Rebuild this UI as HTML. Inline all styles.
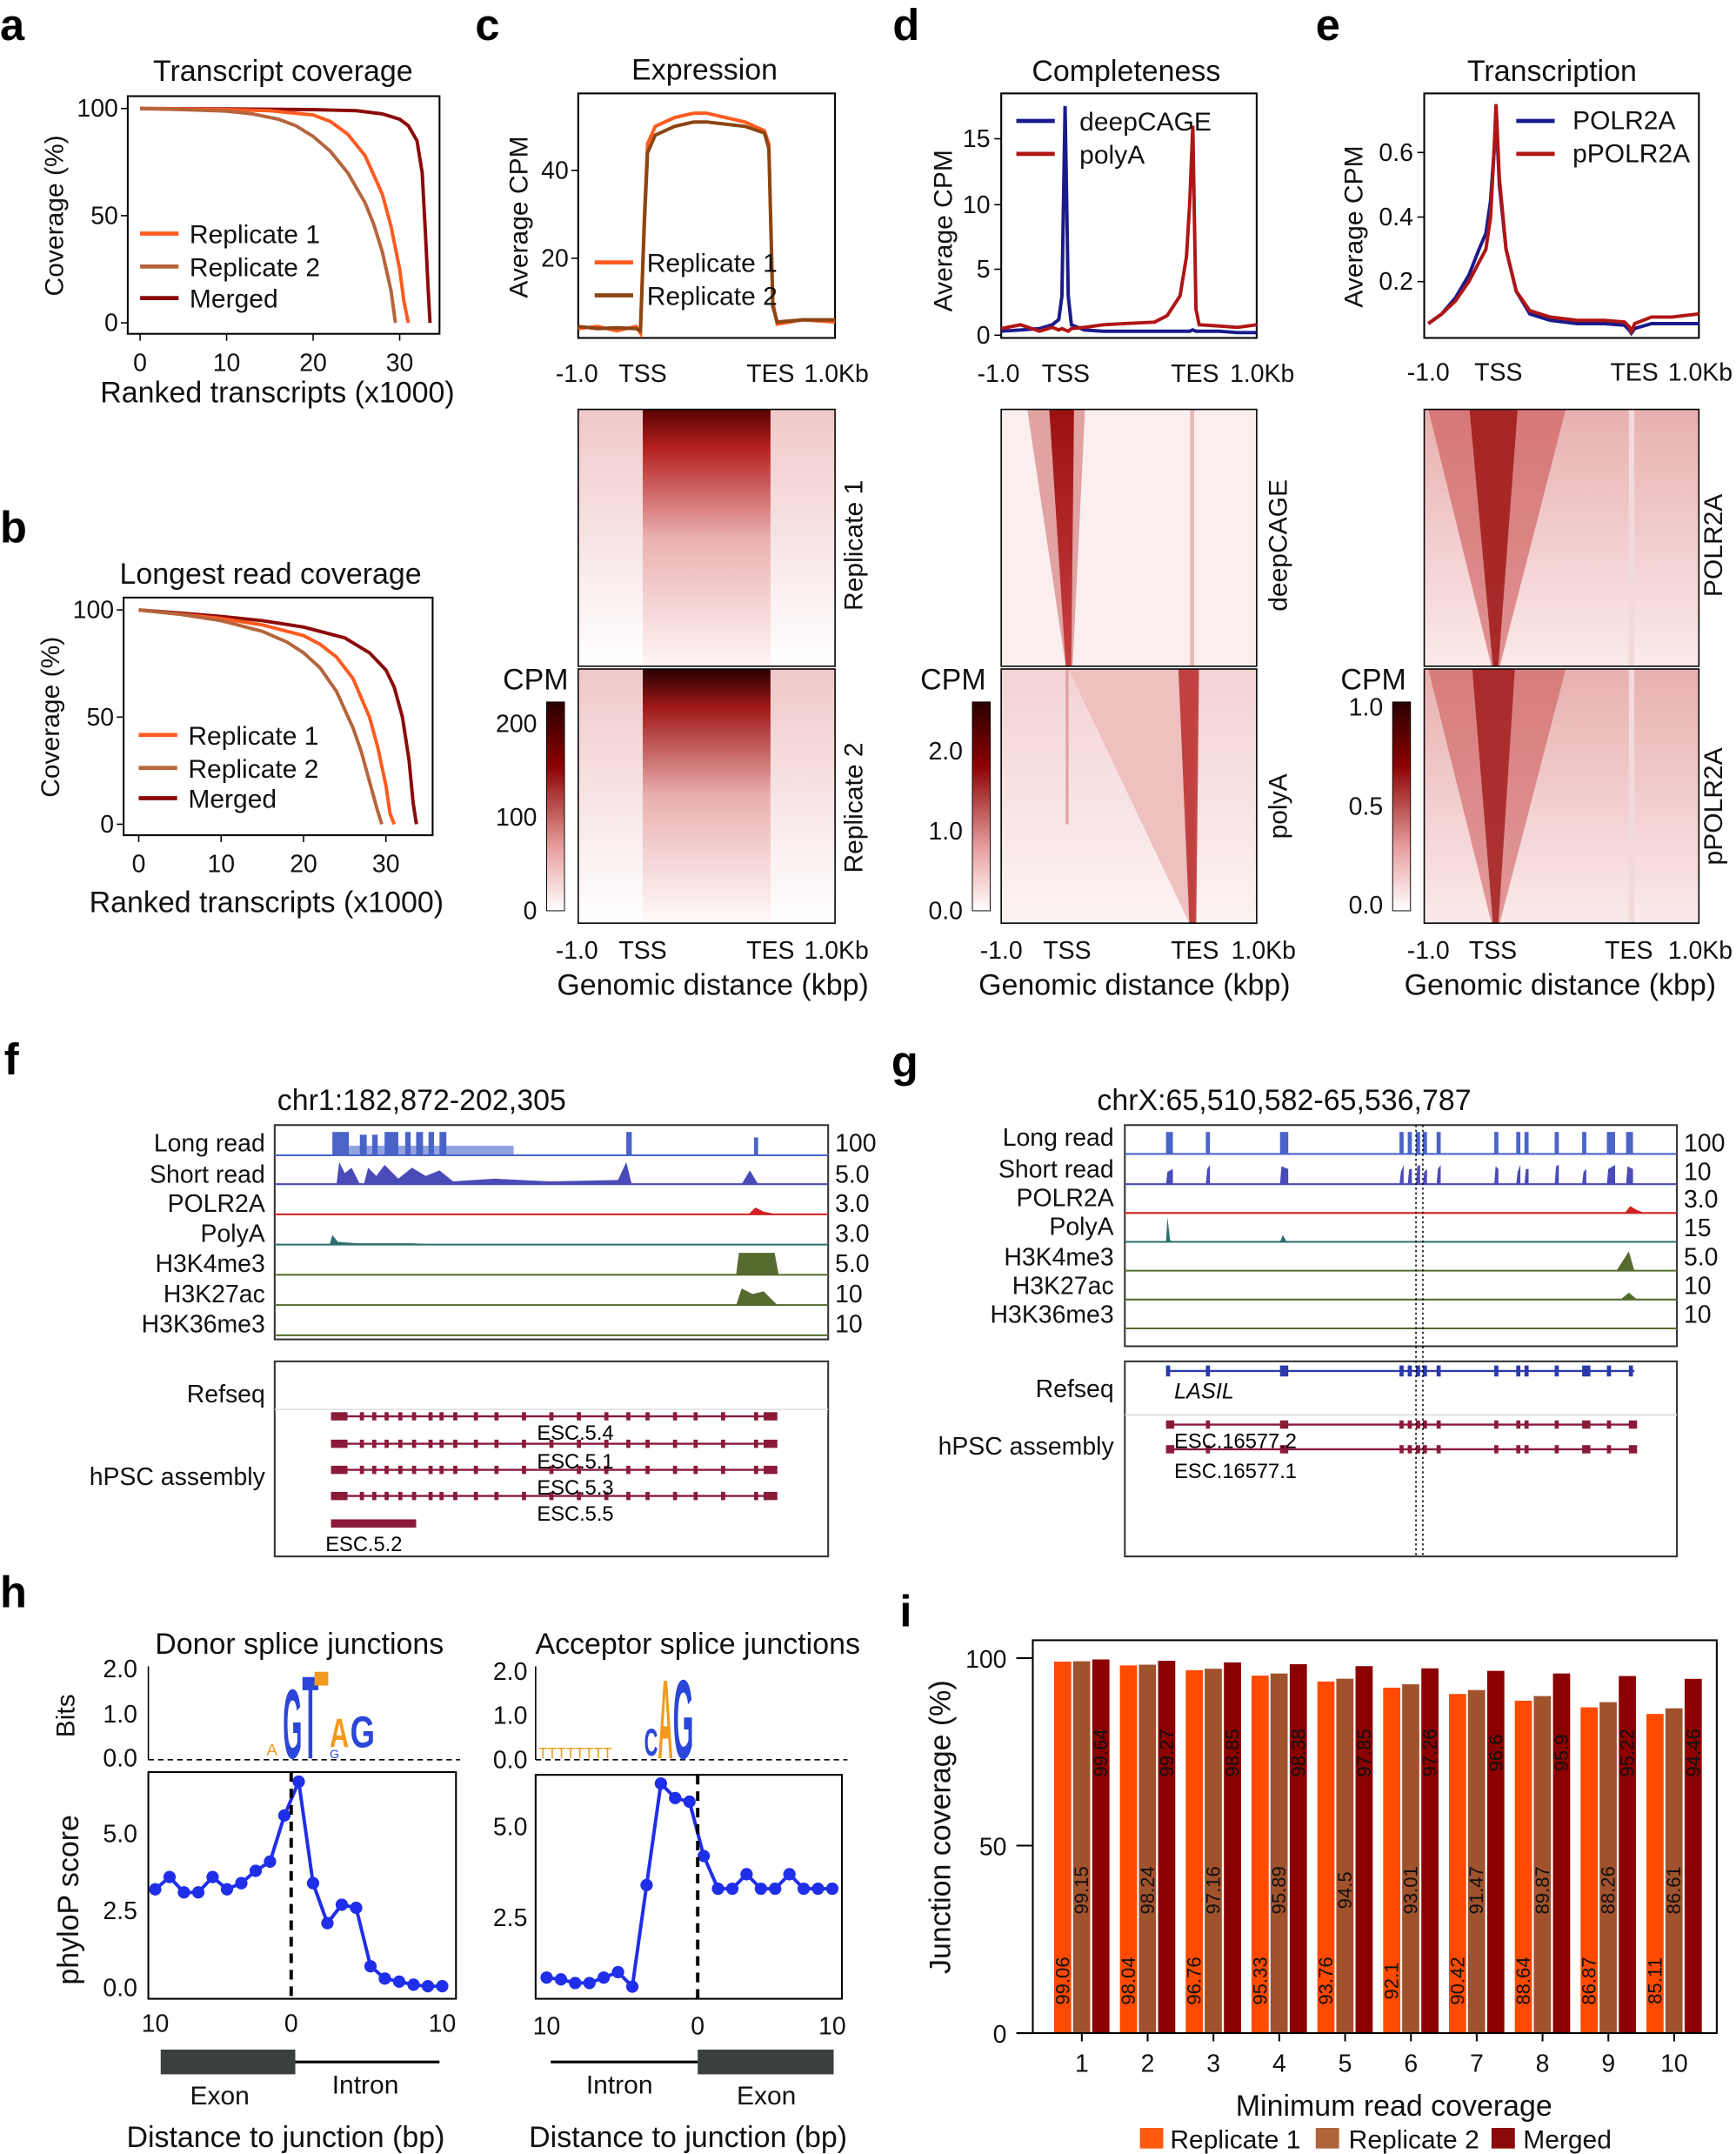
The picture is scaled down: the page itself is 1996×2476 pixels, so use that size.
<!DOCTYPE html>
<html><head><meta charset="utf-8">
<style>
html,body{margin:0;padding:0;background:#fff;}
svg{display:block;font-family:"Liberation Sans",Arial,sans-serif;}
.t{font-size:19px;fill:#111}
.tk{font-size:18px;fill:#111}
.ttl{font-size:21.5px;fill:#111}
.pl{font-size:32px;font-weight:bold;fill:#000}
.lb{font-size:18px;fill:#111}
</style></head>
<body>
<svg id="fig" width="1996" height="2476" viewBox="0 0 1264 1568" xmlns="http://www.w3.org/2000/svg">
<defs>
<linearGradient id="cbar" x1="0" y1="0" x2="0" y2="1"><stop offset="0" stop-color="#2a0000"/><stop offset="0.3" stop-color="#8b0000"/><stop offset="0.7" stop-color="#e8a0a0"/><stop offset="1" stop-color="#fff"/></linearGradient>
<linearGradient id="hmC1" x1="0" y1="0" x2="0" y2="1"><stop offset="0" stop-color="#5a0000"/><stop offset="0.15" stop-color="#b52020"/><stop offset="0.5" stop-color="#eab0b0"/><stop offset="1" stop-color="#fff5f5"/></linearGradient>
<linearGradient id="hmC2" x1="0" y1="0" x2="0" y2="1"><stop offset="0" stop-color="#2a0000"/><stop offset="0.15" stop-color="#a01818"/><stop offset="0.5" stop-color="#eab0b0"/><stop offset="1" stop-color="#fffafa"/></linearGradient>
<linearGradient id="hmSide" x1="0" y1="0" x2="0" y2="1"><stop offset="0" stop-color="#f0c8c8"/><stop offset="1" stop-color="#fff"/></linearGradient>
<linearGradient id="hmPeak" x1="0" y1="0" x2="0" y2="1"><stop offset="0" stop-color="#9b1010"/><stop offset="1" stop-color="#c84040"/></linearGradient>
<linearGradient id="hmBg" x1="0" y1="0" x2="0" y2="1"><stop offset="0" stop-color="#f3d2d2"/><stop offset="1" stop-color="#fdf3f3"/></linearGradient>
<linearGradient id="hmE" x1="0" y1="0" x2="0" y2="1"><stop offset="0" stop-color="#e8b0b0"/><stop offset="1" stop-color="#fbeaea"/></linearGradient>
</defs>

<!-- panel letters -->
<text class="pl" x="0" y="29">a</text>
<text class="pl" x="0" y="395">b</text>
<text class="pl" x="346" y="29">c</text>
<text class="pl" x="650" y="29">d</text>
<text class="pl" x="958" y="29">e</text>
<text class="pl" x="3" y="782">f</text>
<text class="pl" x="649" y="784">g</text>
<text class="pl" x="0" y="1170">h</text>
<text class="pl" x="655" y="1184">i</text>

<!-- Panel a -->
<g>
<text class="ttl" x="206" y="59" text-anchor="middle">Transcript coverage</text>
<rect x="93" y="70" width="227" height="173" fill="none" stroke="#000" stroke-width="1.3"/>
<text class="ttl" x="202" y="293" text-anchor="middle">Ranked transcripts (x1000)</text>
<text class="t" transform="translate(46,157) rotate(-90)" text-anchor="middle">Coverage (%)</text>
<g id="aTicks"></g><g id="aLines"></g>
<g>
<line x1="102" y1="170" x2="130" y2="170" stroke="#ff5a1f" stroke-width="3"/><text class="t" x="138" y="177">Replicate 1</text>
<line x1="102" y1="194" x2="130" y2="194" stroke="#b5653d" stroke-width="3"/><text class="t" x="138" y="201">Replicate 2</text>
<line x1="102" y1="217" x2="130" y2="217" stroke="#8b0a0a" stroke-width="3"/><text class="t" x="138" y="224">Merged</text>
</g></g>

<!-- Panel b -->
<g>
<text class="ttl" x="197" y="425" text-anchor="middle">Longest read coverage</text>
<rect x="90" y="435" width="225" height="173" fill="none" stroke="#000" stroke-width="1.3"/>
<text class="ttl" x="194" y="664" text-anchor="middle">Ranked transcripts (x1000)</text>
<text class="t" transform="translate(43,522) rotate(-90)" text-anchor="middle">Coverage (%)</text>
<g id="bTicks"></g><g id="bLines"></g>
<g>
<line x1="101" y1="535" x2="129" y2="535" stroke="#ff5a1f" stroke-width="3"/><text class="t" x="137" y="542">Replicate 1</text>
<line x1="101" y1="559" x2="129" y2="559" stroke="#b5653d" stroke-width="3"/><text class="t" x="137" y="566">Replicate 2</text>
<line x1="101" y1="581" x2="129" y2="581" stroke="#8b0a0a" stroke-width="3"/><text class="t" x="137" y="588">Merged</text>
</g></g>

<!-- Panel c -->
<g>
<text class="ttl" x="513" y="58" text-anchor="middle">Expression</text>
<rect x="421" y="68" width="187" height="178" fill="none" stroke="#000" stroke-width="1.3"/>
<text class="t" transform="translate(384,158) rotate(-90)" text-anchor="middle">Average CPM</text>
<text class="tk" x="414" y="130" text-anchor="end">40</text><line x1="416" y1="124" x2="421" y2="124" stroke="#000"/>
<text class="tk" x="414" y="194" text-anchor="end">20</text><line x1="416" y1="188" x2="421" y2="188" stroke="#000"/>
<g id="cLines"></g>
<line x1="433" y1="191" x2="461" y2="191" stroke="#ff5a1f" stroke-width="3"/><text class="t" x="471" y="198">Replicate 1</text>
<line x1="433" y1="215" x2="461" y2="215" stroke="#8b4513" stroke-width="3"/><text class="t" x="471" y="222">Replicate 2</text>
<g class="tk"><text x="420" y="278" text-anchor="middle">-1.0</text><text x="468" y="278" text-anchor="middle">TSS</text><text x="561" y="278" text-anchor="middle">TES</text><text x="609" y="278" text-anchor="middle">1.0Kb</text></g>
<g>
<rect x="421" y="298" width="187" height="187" fill="url(#hmSide)"/>
<rect x="468" y="298" width="93" height="187" fill="url(#hmC1)"/>
<rect x="421" y="298" width="187" height="187" fill="none" stroke="#000"/>
</g>
<g>
<rect x="421" y="487" width="187" height="185" fill="url(#hmSide)"/>
<rect x="468" y="487" width="93" height="185" fill="url(#hmC2)"/>
<rect x="421" y="487" width="187" height="185" fill="none" stroke="#000"/>
</g>
<text class="t" transform="translate(628,397) rotate(-90)" text-anchor="middle">Replicate 1</text>
<text class="t" transform="translate(628,588) rotate(-90)" text-anchor="middle">Replicate 2</text>
<text class="ttl" x="390" y="502" text-anchor="middle">CPM</text>
<rect x="398" y="511" width="13" height="152" fill="url(#cbar)" stroke="#000" stroke-width="0.6"/>
<g class="tk"><text x="391" y="533" text-anchor="end">200</text><text x="391" y="601" text-anchor="end">100</text><text x="391" y="669" text-anchor="end">0</text></g>
<g class="tk"><text x="420" y="698" text-anchor="middle">-1.0</text><text x="468" y="698" text-anchor="middle">TSS</text><text x="561" y="698" text-anchor="middle">TES</text><text x="609" y="698" text-anchor="middle">1.0Kb</text></g>
<text class="ttl" x="519" y="724" text-anchor="middle">Genomic distance (kbp)</text>
</g>

<!-- Panel d -->
<g>
<text class="ttl" x="820" y="59" text-anchor="middle">Completeness</text>
<rect x="729" y="68" width="186" height="178" fill="none" stroke="#000" stroke-width="1.3"/>
<text class="t" transform="translate(693,168) rotate(-90)" text-anchor="middle">Average CPM</text>
<g class="tk"><text x="721" y="107" text-anchor="end">15</text><text x="721" y="155" text-anchor="end">10</text><text x="721" y="202" text-anchor="end">5</text><text x="721" y="250" text-anchor="end">0</text></g>
<g stroke="#000"><line x1="724" y1="101" x2="729" y2="101"/><line x1="724" y1="149" x2="729" y2="149"/><line x1="724" y1="196" x2="729" y2="196"/><line x1="724" y1="244" x2="729" y2="244"/></g>
<g id="dLines"></g>
<line x1="740" y1="88" x2="768" y2="88" stroke="#1a1a8c" stroke-width="3"/><text class="t" x="786" y="95">deepCAGE</text>
<line x1="740" y1="112" x2="768" y2="112" stroke="#b01515" stroke-width="3"/><text class="t" x="786" y="119">polyA</text>
<g class="tk"><text x="727" y="278" text-anchor="middle">-1.0</text><text x="776" y="278" text-anchor="middle">TSS</text><text x="870" y="278" text-anchor="middle">TES</text><text x="919" y="278" text-anchor="middle">1.0Kb</text></g>
<g>
<rect x="729" y="298" width="186" height="187" fill="#fbeeee"/>
<polygon points="748,298 790,298 781,485 776,485" fill="#d07070" opacity="0.6"/>
<polygon points="764,298 782,298 780,485 776,485" fill="url(#hmPeak)"/>
<line x1="868" y1="298" x2="868" y2="485" stroke="#e8b8b8" stroke-width="3"/>
<rect x="729" y="298" width="186" height="187" fill="none" stroke="#000"/>
</g>
<g>
<rect x="729" y="487" width="186" height="185" fill="url(#hmBg)"/>
<polygon points="778,487 870,487 870,672 866,672" fill="#eec0c0"/>
<polygon points="858,487 873,487 871,672 866,672" fill="#b52020" opacity="0.8"/>
<line x1="777" y1="487" x2="777" y2="600" stroke="#e0a0a0" stroke-width="2"/>
<rect x="729" y="487" width="186" height="185" fill="none" stroke="#000"/>
</g>
<text class="t" transform="translate(937,397) rotate(-90)" text-anchor="middle">deepCAGE</text>
<text class="t" transform="translate(937,587) rotate(-90)" text-anchor="middle">polyA</text>
<text class="ttl" x="694" y="502" text-anchor="middle">CPM</text>
<rect x="708" y="511" width="13" height="152" fill="url(#cbar)" stroke="#000" stroke-width="0.6"/>
<g class="tk"><text x="701" y="553" text-anchor="end">2.0</text><text x="701" y="611" text-anchor="end">1.0</text><text x="701" y="669" text-anchor="end">0.0</text></g>
<g class="tk"><text x="729" y="698" text-anchor="middle">-1.0</text><text x="777" y="698" text-anchor="middle">TSS</text><text x="870" y="698" text-anchor="middle">TES</text><text x="920" y="698" text-anchor="middle">1.0Kb</text></g>
<text class="ttl" x="826" y="724" text-anchor="middle">Genomic distance (kbp)</text>
</g>

<!-- Panel e -->
<g>
<text class="ttl" x="1130" y="59" text-anchor="middle">Transcription</text>
<rect x="1037" y="68" width="200" height="178" fill="none" stroke="#000" stroke-width="1.3"/>
<text class="t" transform="translate(992,165) rotate(-90)" text-anchor="middle">Average CPM</text>
<g class="tk"><text x="1029" y="117" text-anchor="end">0.6</text><text x="1029" y="164" text-anchor="end">0.4</text><text x="1029" y="211" text-anchor="end">0.2</text></g>
<g stroke="#000"><line x1="1032" y1="111" x2="1037" y2="111"/><line x1="1032" y1="158" x2="1037" y2="158"/><line x1="1032" y1="205" x2="1037" y2="205"/></g>
<g id="eLines"></g>
<line x1="1104" y1="88" x2="1132" y2="88" stroke="#1a1a8c" stroke-width="3"/><text class="t" x="1145" y="94">POLR2A</text>
<line x1="1104" y1="112" x2="1132" y2="112" stroke="#b01515" stroke-width="3"/><text class="t" x="1145" y="118">pPOLR2A</text>
<g class="tk"><text x="1040" y="277" text-anchor="middle">-1.0</text><text x="1091" y="277" text-anchor="middle">TSS</text><text x="1190" y="277" text-anchor="middle">TES</text><text x="1238" y="277" text-anchor="middle">1.0Kb</text></g>
<g>
<rect x="1037" y="298" width="200" height="187" fill="url(#hmE)"/>
<polygon points="1040,298 1140,298 1092,485 1086,485" fill="#c84848" opacity="0.55"/>
<polygon points="1070,298 1105,298 1091,485 1087,485" fill="#9b1010" opacity="0.8"/>
<line x1="1188" y1="298" x2="1188" y2="485" stroke="#f3dada" stroke-width="4"/>
<rect x="1037" y="298" width="200" height="187" fill="none" stroke="#000"/>
</g>
<g>
<rect x="1037" y="487" width="200" height="185" fill="url(#hmE)"/>
<polygon points="1040,487 1140,487 1092,672 1086,672" fill="#c84848" opacity="0.5"/>
<polygon points="1072,487 1103,487 1091,672 1087,672" fill="#9b1010" opacity="0.75"/>
<line x1="1188" y1="487" x2="1188" y2="672" stroke="#f3dada" stroke-width="4"/>
<rect x="1037" y="487" width="200" height="185" fill="none" stroke="#000"/>
</g>
<text class="t" transform="translate(1254,397) rotate(-90)" text-anchor="middle">POLR2A</text>
<text class="t" transform="translate(1254,587) rotate(-90)" text-anchor="middle">pPOLR2A</text>
<text class="ttl" x="1000" y="502" text-anchor="middle">CPM</text>
<rect x="1014" y="511" width="13" height="152" fill="url(#cbar)" stroke="#000" stroke-width="0.6"/>
<g class="tk"><text x="1007" y="521" text-anchor="end">1.0</text><text x="1007" y="593" text-anchor="end">0.5</text><text x="1007" y="665" text-anchor="end">0.0</text></g>
<g class="tk"><text x="1040" y="698" text-anchor="middle">-1.0</text><text x="1087" y="698" text-anchor="middle">TSS</text><text x="1186" y="698" text-anchor="middle">TES</text><text x="1238" y="698" text-anchor="middle">1.0Kb</text></g>
<text class="ttl" x="1136" y="724" text-anchor="middle">Genomic distance (kbp)</text>
</g>

<!-- Panel f -->
<g>
<text class="ttl" x="307" y="808" text-anchor="middle">chr1:182,872-202,305</text>
<rect x="200" y="819" width="403" height="156" fill="none" stroke="#333" stroke-width="1.3"/>
<g class="lb" text-anchor="end">
<text x="193" y="838">Long read</text><text x="193" y="861">Short read</text><text x="193" y="882">POLR2A</text><text x="193" y="904">PolyA</text><text x="193" y="926">H3K4me3</text><text x="193" y="948">H3K27ac</text><text x="193" y="970">H3K36me3</text>
</g>
<g class="lb"><text x="608" y="838">100</text><text x="608" y="861">5.0</text><text x="608" y="882">3.0</text><text x="608" y="904">3.0</text><text x="608" y="926">5.0</text><text x="608" y="948">10</text><text x="608" y="970">10</text></g>
<g stroke-width="1.3">
<line x1="200" y1="841" x2="603" y2="841" stroke="#4a64c8"/><line x1="200" y1="862" x2="603" y2="862" stroke="#4a4ab8"/><line x1="200" y1="884" x2="603" y2="884" stroke="#d02020"/><line x1="200" y1="906" x2="603" y2="906" stroke="#2e6e6e"/><line x1="200" y1="928" x2="603" y2="928" stroke="#556b2f"/><line x1="200" y1="950" x2="603" y2="950" stroke="#556b2f"/><line x1="200" y1="972" x2="603" y2="972" stroke="#556b2f"/>
</g>
<g fill="#4a64c8"><rect x="242" y="824" width="12" height="17"/><rect x="262" y="826" width="5" height="15"/><rect x="271" y="826" width="4" height="15"/><rect x="280" y="824" width="10" height="17"/><rect x="295" y="824" width="4" height="17"/><rect x="303" y="824" width="5" height="17"/><rect x="312" y="824" width="4" height="17"/><rect x="320" y="824" width="5" height="17"/><rect x="254" y="834" width="120" height="7" opacity="0.6"/><rect x="456" y="824" width="4" height="17"/><rect x="549" y="828" width="3" height="13"/></g>
<g fill="#4a4ab8"><path d="M245,862 L247,846 L251,854 L256,850 L262,862 Z"/><path d="M265,862 L268,850 L274,856 L280,848 L290,858 L300,850 L310,856 L320,852 L330,860 L360,858 L400,860 L450,859 L456,846 L460,862 Z"/><path d="M540,862 L546,852 L552,862 Z"/></g>
<path d="M545,884 L550,879 L556,882 L566,884 Z" fill="#d02020"/>
<path d="M240,906 L242,899 L246,904 L260,905 L300,905 L320,906 Z" fill="#2e6e6e"/>
<path d="M536,928 L538,912 L564,912 L567,928 Z" fill="#556b2f"/>
<path d="M536,950 L540,938 L548,942 L556,940 L566,950 Z" fill="#556b2f"/>
<rect x="200" y="991" width="403" height="142" fill="none" stroke="#333" stroke-width="1.3"/>
<line x1="200" y1="1026" x2="603" y2="1026" stroke="#ddd"/>
<text class="lb" x="193" y="1021" text-anchor="end">Refseq</text>
<text class="lb" x="193" y="1081" text-anchor="end">hPSC assembly</text>
<g id="fTx"></g>
<g font-size="15"><text x="391" y="1048">ESC.5.4</text><text x="391" y="1069">ESC.5.1</text><text x="391" y="1088">ESC.5.3</text><text x="391" y="1107">ESC.5.5</text><text x="237" y="1129">ESC.5.2</text></g>
</g>

<!-- Panel g -->
<g>
<text class="ttl" x="935" y="808" text-anchor="middle">chrX:65,510,582-65,536,787</text>
<rect x="819" y="819" width="402" height="161" fill="none" stroke="#333" stroke-width="1.3"/>
<g class="lb" text-anchor="end">
<text x="811" y="834">Long read</text><text x="811" y="857">Short read</text><text x="811" y="878">POLR2A</text><text x="811" y="899">PolyA</text><text x="811" y="921">H3K4me3</text><text x="811" y="942">H3K27ac</text><text x="811" y="963">H3K36me3</text>
</g>
<g class="lb"><text x="1226" y="838">100</text><text x="1226" y="859">10</text><text x="1226" y="879">3.0</text><text x="1226" y="900">15</text><text x="1226" y="921">5.0</text><text x="1226" y="942">10</text><text x="1226" y="963">10</text></g>
<g stroke-width="1.3">
<line x1="819" y1="840" x2="1221" y2="840" stroke="#4a64c8"/><line x1="819" y1="862" x2="1221" y2="862" stroke="#4a4ab8"/><line x1="819" y1="883" x2="1221" y2="883" stroke="#d02020"/><line x1="819" y1="904" x2="1221" y2="904" stroke="#2e6e6e"/><line x1="819" y1="925" x2="1221" y2="925" stroke="#556b2f"/><line x1="819" y1="946" x2="1221" y2="946" stroke="#556b2f"/><line x1="819" y1="967" x2="1221" y2="967" stroke="#556b2f"/>
</g>
<g id="gTracks"></g>
<path d="M1183,883 L1187,878 L1192,881 L1198,883 Z" fill="#d02020"/>
<path d="M849,904 L850,886 L852,903 L856,904 Z M932,904 L934,899 L937,904 Z" fill="#2e6e6e"/>
<path d="M1177,925 L1186,911 L1190,925 Z" fill="#556b2f"/>
<path d="M1180,946 L1186,941 L1192,946 Z" fill="#556b2f"/>
<rect x="819" y="991" width="402" height="142" fill="none" stroke="#333" stroke-width="1.3"/>
<line x1="819" y1="1030" x2="1221" y2="1030" stroke="#ddd"/>
<text class="lb" x="811" y="1017" text-anchor="end">Refseq</text>
<text class="lb" x="811" y="1059" text-anchor="end">hPSC assembly</text>
<g id="gTx"></g>
<text x="855" y="1018" font-size="16" font-style="italic">LASIL</text>
<g font-size="15"><text x="855" y="1054">ESC.16577.2</text><text x="855" y="1076">ESC.16577.1</text></g>
<line x1="1031" y1="819" x2="1031" y2="1133" stroke="#000" stroke-dasharray="1.5,2"/>
<line x1="1036" y1="819" x2="1036" y2="1133" stroke="#000" stroke-dasharray="1.5,2"/>
</g>

<!-- Panel h -->
<g>
<text class="ttl" x="218" y="1204" text-anchor="middle">Donor splice junctions</text>
<text class="ttl" x="508" y="1204" text-anchor="middle">Acceptor splice junctions</text>
<g>
<line x1="108" y1="1213" x2="108" y2="1281" stroke="#000"/><line x1="108" y1="1281" x2="335" y2="1281" stroke="#000" stroke-dasharray="4,3"/>
<g class="tk" text-anchor="end"><text x="100" y="1221">2.0</text><text x="100" y="1254">1.0</text><text x="100" y="1286">0.0</text></g>
<text class="t" transform="translate(54,1249) rotate(-90)" text-anchor="middle">Bits</text>
<text x="206" y="1280" font-size="72" font-weight="bold" fill="#2b46d8" textLength="14" lengthAdjust="spacingAndGlyphs">G</text>
<text x="220" y="1280" font-size="86" font-weight="bold" fill="#2b46d8" textLength="12" lengthAdjust="spacingAndGlyphs">T</text>
<rect x="229" y="1217" width="10" height="10" fill="#f39a1e"/>
<text x="240" y="1272" font-size="30" font-weight="bold" fill="#f39a1e" textLength="14" lengthAdjust="spacingAndGlyphs">A</text>
<text x="255" y="1272" font-size="32" font-weight="bold" fill="#2b46d8" textLength="18" lengthAdjust="spacingAndGlyphs">G</text>
<text x="194" y="1278" font-size="12" fill="#f39a1e">A</text>
<text x="240" y="1280" font-size="9" fill="#2b46d8">G</text>
</g>
<g>
<line x1="390" y1="1213" x2="390" y2="1281" stroke="#000"/><line x1="390" y1="1281" x2="617" y2="1281" stroke="#000" stroke-dasharray="4,3"/>
<g class="tk" text-anchor="end"><text x="384" y="1223">2.0</text><text x="384" y="1255">1.0</text><text x="384" y="1287">0.0</text></g>
<text x="392" y="1280" font-size="11" fill="#f39a1e">TTTTTTTT</text>
<text x="469" y="1278" font-size="28" font-weight="bold" fill="#2b46d8" textLength="10" lengthAdjust="spacingAndGlyphs">C</text>
<text x="479" y="1280" font-size="82" font-weight="bold" fill="#f39a1e" textLength="11" lengthAdjust="spacingAndGlyphs">A</text>
<text x="490" y="1280" font-size="82" font-weight="bold" fill="#2b46d8" textLength="15" lengthAdjust="spacingAndGlyphs">G</text>
</g>
<rect x="108" y="1290" width="224" height="165" fill="none" stroke="#000" stroke-width="1.3"/>
<rect x="390" y="1292" width="223" height="163" fill="none" stroke="#000" stroke-width="1.3"/>
<text class="ttl" transform="translate(57,1383) rotate(-90)" text-anchor="middle">phyloP score</text>
<g class="tk" text-anchor="end"><text x="100" y="1341">5.0</text><text x="100" y="1397">2.5</text><text x="100" y="1453">0.0</text><text x="384" y="1336">5.0</text><text x="384" y="1402">2.5</text></g>
<g id="hDots"></g>
<line x1="212" y1="1290" x2="212" y2="1455" stroke="#000" stroke-width="2.5" stroke-dasharray="7,5"/>
<line x1="508" y1="1292" x2="508" y2="1455" stroke="#000" stroke-width="2.5" stroke-dasharray="7,5"/>
<g class="tk" text-anchor="middle"><text x="113" y="1479">10</text><text x="212" y="1479">0</text><text x="322" y="1479">10</text><text x="398" y="1481">10</text><text x="508" y="1481">0</text><text x="606" y="1481">10</text></g>
<rect x="117" y="1492" width="98" height="18" fill="#3c3f40"/><line x1="215" y1="1501" x2="320" y2="1501" stroke="#000" stroke-width="2"/>
<line x1="401" y1="1501" x2="508" y2="1501" stroke="#000" stroke-width="2"/><rect x="508" y="1492" width="99" height="18" fill="#3c3f40"/>
<g class="t" text-anchor="middle"><text x="160" y="1532">Exon</text><text x="266" y="1524">Intron</text><text x="451" y="1524">Intron</text><text x="558" y="1532">Exon</text></g>
<text class="ttl" x="208" y="1563" text-anchor="middle">Distance to junction (bp)</text>
<text class="ttl" x="501" y="1563" text-anchor="middle">Distance to junction (bp)</text>
</g>

<!-- Panel i -->
<g>
<g id="iBars"></g>
<rect x="752" y="1194" width="498" height="286" fill="none" stroke="#000" stroke-width="1.3"/>
<text class="ttl" font-size="23" transform="translate(692,1330) rotate(-90)" text-anchor="middle">Junction coverage (%)</text>
<text class="ttl" font-size="23" x="1015" y="1540" text-anchor="middle">Minimum read coverage</text>
<g>
<rect x="830" y="1549" width="17" height="15" fill="#ff5a0f"/><text class="t" x="852" y="1564">Replicate 1</text>
<rect x="958" y="1549" width="17" height="15" fill="#b0643c"/><text class="t" x="982" y="1564">Replicate 2</text>
<rect x="1086" y="1549" width="17" height="15" fill="#8b0a0a"/><text class="t" x="1109" y="1564">Merged</text>
</g>
</g>
</svg>

<script>
// ---------- data ----------
var aRep1X=[0,5,10,15,20,22,24,26,28,29,30,30.5,31];
var aRep1Y=[100,99.8,99.5,99,97,94,88,78,60,45,25,10,0];
var aRep2X=[0,5,10,13,16,18,20,22,24,26,27,28,29,29.5];
var aRep2Y=[100,99.5,98.8,97.5,95,92,87,80,70,56,46,33,15,0];
var aMergX=[0,10,20,25,28,30,31,32,32.6,33,33.3,33.5];
var aMergY=[100,99.8,99.5,99,97.5,95,92,85,70,40,15,0];
var bRep1X=[0,5,10,15,20,22,24,26,28,29,30,30.5,31];
var bRep1Y=[100,98,96,93,88,84,78,68,50,36,18,5,0];
var bRep2X=[0,5,10,15,18,20,22,24,26,27,28,29,29.5];
var bRep2Y=[100,98,95,90,85,80,73,62,45,34,20,6,0];
var bMergX=[0,5,10,15,20,25,28,30,31,32,32.8,33.3,33.7];
var bMergY=[100,98.5,97,95,92,87,80,72,64,50,30,10,0];
var cPos=[0,0.3,0.6,0.9,0.97,1.03,1.08,1.2,1.5,1.8,2.0,2.3,2.6,2.9,2.97,3.03,3.1,3.5,4];
var cRep1=[4,4.5,3.5,4.5,3,30,46,50,52,53,53,52,51,49,46,10,5,6,5.5];
var cRep2=[4.5,4,4.2,4,3.5,28,44,48,50,51,51,50.5,50,48.5,45,9,5.5,6,6];
var dPos=[0,0.3,0.6,0.8,0.9,0.95,1.0,1.05,1.1,1.3,1.6,2.0,2.4,2.6,2.8,2.9,2.95,3.0,3.05,3.1,3.4,3.7,4];
var dCage=[0.3,0.4,0.5,0.8,1.2,3,17.5,3,0.8,0.4,0.3,0.3,0.3,0.3,0.3,0.3,0.3,0.4,0.3,0.3,0.3,0.2,0.2];
var dPolyA=[0.5,0.8,0.3,0.6,0.4,0.5,0.4,0.3,0.5,0.6,0.8,0.9,1.0,1.5,3,6,10,16,2,0.8,0.7,0.6,0.8];
var ePos=[0,0.2,0.4,0.6,0.75,0.85,0.92,0.97,1.0,1.05,1.15,1.3,1.5,1.8,2.2,2.6,2.9,2.97,3.0,3.05,3.3,3.6,4];
var ePol=[0.07,0.1,0.15,0.22,0.3,0.35,0.45,0.6,0.72,0.5,0.3,0.17,0.1,0.08,0.07,0.07,0.065,0.05,0.04,0.055,0.07,0.07,0.07];
var ePpol=[0.07,0.1,0.14,0.2,0.26,0.3,0.4,0.6,0.75,0.52,0.3,0.17,0.11,0.09,0.08,0.08,0.075,0.06,0.045,0.07,0.09,0.09,0.1];
var donorPos=[-10,-9,-8,-7,-6,-5,-4,-3,-2,-1,0,1,2,3,4,5,6,7,8,9,10];
var donorVal=[3.2,3.6,3.1,3.1,3.6,3.2,3.4,3.8,4.1,5.6,6.7,3.4,2.1,2.7,2.6,0.7,0.3,0.2,0.1,0.05,0.05];
var accPos=[-10,-9,-8,-7,-6,-5,-4,-3,-2,-1,0,1,2,3,4,5,6,7,8,9,10];
var accVal=[0.85,0.8,0.7,0.7,0.85,1.0,0.6,3.4,6.2,5.8,5.7,4.2,3.3,3.3,3.7,3.3,3.3,3.7,3.3,3.3,3.3];
var iCats=[1,2,3,4,5,6,7,8,9,10];
var iRep1=[99.06,98.04,96.76,95.33,93.76,92.1,90.42,88.64,86.87,85.11];
var iRep2=[99.15,98.24,97.16,95.89,94.5,93.01,91.47,89.87,88.26,86.61];
var iMerged=[99.64,99.27,98.85,98.38,97.85,97.26,96.6,95.9,95.22,94.46];
var iTicks=[0,50,100];
var fTxRows=[1031,1051,1070,1089];
var fExons=[241,250,262,271,280,290,300,312,320,330,345,360,380,400,420,440,456,470,490,505,525,549,556];
var gLongExons=[849,878,932,1019,1025,1031,1036,1046,1088,1104,1110,1132,1152,1170,1184];
var gTxExons=[849,878,932,1019,1025,1031,1036,1046,1088,1104,1110,1132,1152,1170,1186];

var NS='http://www.w3.org/2000/svg';
function el(tag,parent,attrs){var e=document.createElementNS(NS,tag);for(var k in attrs)e.setAttribute(k,attrs[k]);parent.appendChild(e);return e;}
function lin(d0,d1,r0,r1){return function(v){return r0+(v-d0)/(d1-d0)*(r1-r0);};}
function pathOf(xs,ys,sx,sy){var s='';for(var i=0;i<xs.length;i++){s+=(i?'L':'M')+sx(xs[i]).toFixed(1)+','+sy(ys[i]).toFixed(1);}return s;}

(function(){
 var sx=lin(0,30,102,291), sy=lin(0,100,235,79);
 var tg=document.getElementById('aTicks'), lg=document.getElementById('aLines');
 [0,10,20,30].forEach(function(v){el('line',tg,{x1:sx(v),y1:243,x2:sx(v),y2:248,stroke:'#000'});var t=el('text',tg,{x:sx(v),y:270,'text-anchor':'middle','class':'tk'});t.textContent=v;});
 [0,50,100].forEach(function(v){el('line',tg,{x1:88,y1:sy(v),x2:93,y2:sy(v),stroke:'#000'});var t=el('text',tg,{x:86,y:sy(v)+6,'text-anchor':'end','class':'tk'});t.textContent=v;});
 var p;
 p=el('path',lg,{d:pathOf(aMergX,aMergY,sx,sy),fill:'none',stroke:'#8b0a0a','stroke-width':2.5});
 
 p=el('path',lg,{d:pathOf(aRep1X,aRep1Y,sx,sy),fill:'none',stroke:'#ff5a1f','stroke-width':2.5});
 
 p=el('path',lg,{d:pathOf(aRep2X,aRep2Y,sx,sy),fill:'none',stroke:'#b5653d','stroke-width':2.5});
 
})();
(function(){
 var sx=lin(0,30,101,281), sy=lin(0,100,600,444);
 var tg=document.getElementById('bTicks'), lg=document.getElementById('bLines');
 [0,10,20,30].forEach(function(v){el('line',tg,{x1:sx(v),y1:608,x2:sx(v),y2:613,stroke:'#000'});var t=el('text',tg,{x:sx(v),y:635,'text-anchor':'middle','class':'tk'});t.textContent=v;});
 [0,50,100].forEach(function(v){el('line',tg,{x1:85,y1:sy(v),x2:90,y2:sy(v),stroke:'#000'});var t=el('text',tg,{x:83,y:sy(v)+6,'text-anchor':'end','class':'tk'});t.textContent=v;});
 var p;
 p=el('path',lg,{d:pathOf(bMergX,bMergY,sx,sy),fill:'none',stroke:'#8b0a0a','stroke-width':2.5});
 
 p=el('path',lg,{d:pathOf(bRep1X,bRep1Y,sx,sy),fill:'none',stroke:'#ff5a1f','stroke-width':2.5});
 
 p=el('path',lg,{d:pathOf(bRep2X,bRep2Y,sx,sy),fill:'none',stroke:'#b5653d','stroke-width':2.5});
 
})();
(function(){
 var sx=lin(0,4,421,608), sy=lin(0,40,252,124), g=document.getElementById('cLines'), p;
 p=el('path',g,{d:pathOf(cPos,cRep1,sx,sy),fill:'none',stroke:'#ff5a1f','stroke-width':2.5});
 
 p=el('path',g,{d:pathOf(cPos,cRep2,sx,sy),fill:'none',stroke:'#8b4513','stroke-width':2.5});
 
})();
(function(){
 var sx=lin(0,4,729,915), sy=lin(0,15,244,101), g=document.getElementById('dLines'), p;
 p=el('path',g,{d:pathOf(dPos,dCage,sx,sy),fill:'none',stroke:'#1a1a8c','stroke-width':2.5});
 
 p=el('path',g,{d:pathOf(dPos,dPolyA,sx,sy),fill:'none',stroke:'#b01515','stroke-width':2.5});
 
})();
(function(){
 var sx=lin(0,4,1040,1237), sy=lin(0,0.6,252,111), g=document.getElementById('eLines'), p;
 p=el('path',g,{d:pathOf(ePos,ePol,sx,sy),fill:'none',stroke:'#1a1a8c','stroke-width':2.5});
 
 p=el('path',g,{d:pathOf(ePos,ePpol,sx,sy),fill:'none',stroke:'#b01515','stroke-width':2.5});
 
})();
(function(){
 var g=document.getElementById('hDots');
 function draw(pos,val,sx,sy,name){
  var p=el('path',g,{d:pathOf(pos,val,sx,sy),fill:'none',stroke:'#1f2ee8','stroke-width':2.5});
  
  for(var i=0;i<pos.length;i++){var c=el('circle',g,{cx:sx(pos[i]),cy:sy(val[i]),r:4.5,fill:'#1f2ee8'});
   }
 }
 draw(donorPos,donorVal,lin(-10,10,113,322),lin(0,5,1447,1335),'donor-phylop');
 draw(accPos,accVal,lin(-10,10,398,606),lin(0,5,1462,1330),'acceptor-phylop');
})();
(function(){
 var g=document.getElementById('iBars');
 var sy=lin(0,100,1480,1207), sx=lin(1,10,787.7,1219);
 iTicks.forEach(function(v){el('line',g,{x1:740,y1:sy(v),x2:752,y2:sy(v),stroke:'#000','stroke-width':1.3});var t=el('text',g,{x:733,y:sy(v)+7,'text-anchor':'end','class':'tk','font-size':'20'});t.textContent=v;});
 var series=[[iRep1,'#ff4a00',-20.2,'replicate-1'],[iRep2,'#a0522d',-6.4,'replicate-2'],[iMerged,'#8b0000',7.6,'merged']];
 for(var i=0;i<iCats.length;i++){
  var cx=sx(iCats[i]);
  el('line',g,{x1:cx,y1:1480,x2:cx,y2:1486,stroke:'#000','stroke-width':1.3});
  var tl=el('text',g,{x:cx,y:1508,'text-anchor':'middle','class':'tk'});tl.textContent=iCats[i];
  series.forEach(function(s){
   var v=s[0][i], x=cx+s[2];
   var r=el('rect',g,{x:x,y:sy(v),width:12.5,height:1480-sy(v),fill:s[1]});
   
   
   var ly = s[3]==='replicate-1'?1442:(s[3]==='replicate-2'?1376:1276);
   var t=el('text',g,{transform:'translate('+(x+11)+','+ly+') rotate(-90)','text-anchor':'middle','font-size':'14',fill:'#111'});
   t.textContent=v;
  });
 }
})();
(function(){
 var g=document.getElementById('fTx');
 fTxRows.forEach(function(y){
  el('line',g,{x1:241,y1:y,x2:560,y2:y,stroke:'#8b1a3a','stroke-width':1.5});
  fExons.forEach(function(x,j){el('rect',g,{x:x,y:y-3,width:(j===0||j===fExons.length-1)?10:3,height:6,fill:'#8b1a3a'});});
 });
 el('line',g,{x1:241,y1:1109,x2:303,y2:1109,stroke:'#8b1a3a','stroke-width':1.5});
 el('rect',g,{x:241,y:1106,width:62,height:6,fill:'#8b1a3a'});
 var gt=document.getElementById('gTracks');
 gLongExons.forEach(function(x,j){
  var w=(j===2||j===13)?6:(j===0||j===14?5:3);
  el('rect',gt,{x:x,y:824,width:w,height:16,fill:'#4a64c8'});
  el('path',gt,{d:'M'+x+',862 L'+(x+1)+','+(853-(j%3)*2)+' L'+(x+w)+','+(851-(j%2)*3)+' L'+(x+w)+',862 Z',fill:'#4a4ab8'});
 });
 var tx=document.getElementById('gTx');
 el('line',tx,{x1:849,y1:998,x2:1190,y2:998,stroke:'#2b3aa8','stroke-width':1.5});
 gTxExons.forEach(function(x,j){el('rect',tx,{x:x,y:994,width:(j===2||j===12)?6:3,height:8,fill:'#2b3aa8'});});
 [1037,1055].forEach(function(y){
  el('line',tx,{x1:849,y1:y,x2:1190,y2:y,stroke:'#8b1a3a','stroke-width':1.5});
  gTxExons.forEach(function(x,j){el('rect',tx,{x:x,y:y-3,width:(j===0||j===2||j===12||j===14)?6:3,height:6,fill:'#8b1a3a'});});
 });
})();
</script>
</body></html>
